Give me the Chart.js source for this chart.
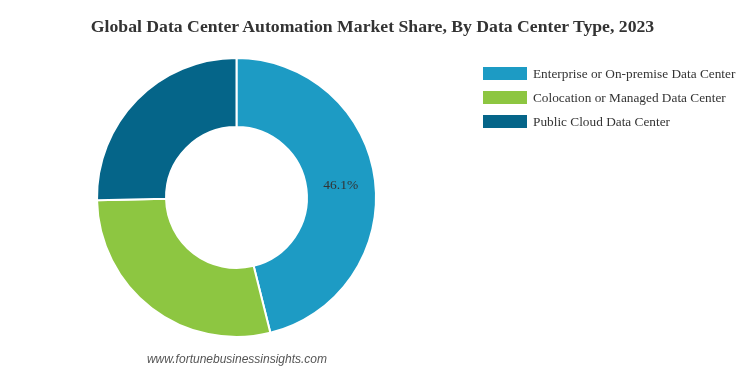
<!DOCTYPE html>
<html><head><meta charset="utf-8">
<script src="https://cdn.jsdelivr.net/npm/chart.js@4.4.1/dist/chart.umd.min.js"></script>
<style>
html,body{margin:0;padding:0;background:#fff;width:745px;height:372px;overflow:hidden;position:relative;}
#title{position:absolute;left:0;width:745px;top:16px;text-align:center;font:bold 17.7px "Liberation Serif","Times New Roman",serif;color:#333;}
#wrap{position:absolute;left:0;top:0;width:745px;height:372px;}
#legend{position:absolute;left:483px;top:67px;font:13.3px "Liberation Serif","Times New Roman",serif;color:#333;}
.li{height:24px;display:flex;align-items:flex-start;}
.sw{width:44px;height:13px;margin-right:6px;margin-top:0px;}
.li span{line-height:13px;}
#src{position:absolute;left:0;width:474px;top:352px;text-align:center;font:italic 12px "Liberation Sans",Arial,sans-serif;color:#555;}
</style></head>
<body>
<div id="wrap"><canvas id="c" width="745" height="372"></canvas></div>
<div id="title"></div>
<div id="legend"></div>
<div id="src">www.fortunebusinessinsights.com</div>
<script>
const chartTitle = "Global Data Center Automation Market Share, By Data Center Type, 2023";
const categories = ["Enterprise or On-premise Data Center", "Colocation or Managed Data Center", "Public Cloud Data Center"];
const shares = [46.1, 28.6, 25.3];
const shownLabels = ["46.1%", "", ""];
const colors = ["#1d9bc4", "#8dc641", "#056589"];

document.getElementById('title').textContent = chartTitle;
const lg = document.getElementById('legend');
categories.forEach((c,i)=>{
  const d=document.createElement('div');d.className='li';
  const s=document.createElement('div');s.className='sw';s.style.background=colors[i];
  const t=document.createElement('span');t.textContent=c;
  d.appendChild(s);d.appendChild(t);lg.appendChild(d);
});

const labelPlugin = {
  id:'sliceLabels',
  afterDatasetsDraw(chart){
    const ctx=chart.ctx;
    const meta=chart.getDatasetMeta(0);
    ctx.save();
    ctx.font='13.5px "Liberation Serif","Times New Roman",serif';
    ctx.fillStyle='#333';
    ctx.textAlign='center';ctx.textBaseline='middle';
    meta.data.forEach((arc,i)=>{
      if(!shownLabels[i]) return;
      const p=arc.tooltipPosition();
      ctx.fillText(shownLabels[i],p.x,p.y+1);
    });
    ctx.restore();
  }
};

new Chart(document.getElementById('c'),{
  type:'doughnut',
  data:{labels:categories,datasets:[{data:shares,backgroundColor:colors,borderColor:'#fff',borderWidth:2}]},
  options:{
    responsive:false,animation:false,
    cutout:'50.5%',
    layout:{padding:{left:96,top:57,right:368,bottom:34}},
    plugins:{legend:{display:false},tooltip:{enabled:false},title:{display:false}}
  },
  plugins:[labelPlugin]
});
</script>
</body></html>
